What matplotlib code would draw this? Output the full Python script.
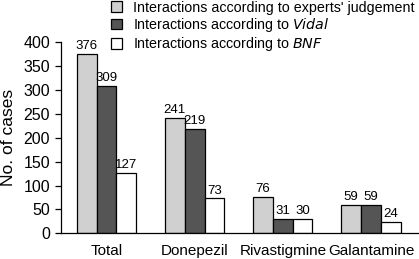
import numpy as np
import matplotlib
matplotlib.use('Agg')
import matplotlib.pyplot as plt

plt.rcParams['font.family'] = ['Liberation Sans', 'DejaVu Sans']

categories = ['Total', 'Donepezil', 'Rivastigmine', 'Galantamine']
experts = [376, 241, 76, 59]
vidal = [309, 219, 31, 59]
bnf = [127, 73, 30, 24]

series_labels = ["Interactions according to experts' judgement",
                 "Interactions according to $\\it{Vidal}$",
                 "Interactions according to $\\it{BNF}$"]
colors = ['#d0d0d0', '#555555', 'white']

fig = plt.figure(figsize=(4.19, 2.59), dpi=100)
ax = fig.add_axes([0.1456, 0.099, 0.8544, 0.7377])

x = np.arange(len(categories))
w = 0.224
handles = []
for i, (vals, col, lab) in enumerate(zip([experts, vidal, bnf], colors, series_labels)):
    bars = ax.bar(x + (i - 1) * w, vals, w, color=col, edgecolor='black',
                  linewidth=0.9, label=lab)
    handles.append(bars)
    for b, v in zip(bars, vals):
        ax.text(b.get_x() + b.get_width() / 2, v + 4, str(v), ha='center',
                va='bottom', fontsize=9.5)

ax.set_xlim(-0.516, 3.544)
ax.set_ylim(0, 400)
ax.set_yticks(range(0, 401, 50))
ax.set_xticks(x)
ax.set_xticklabels(categories, fontsize=11)
ax.tick_params(axis='y', labelsize=11.5, direction='out', length=4, width=0.9, pad=4)
ax.tick_params(axis='x', length=0, pad=8)
ax.set_ylabel('No. of cases', fontsize=12.5)
ax.yaxis.set_label_coords(-0.125, 0.5)
for s in ['top', 'right']:
    ax.spines[s].set_visible(False)
ax.spines['left'].set_linewidth(0.9)
ax.spines['bottom'].set_linewidth(0.9)

fig.legend(handles=handles, loc='upper left', bbox_to_anchor=(0.252, 1.02),
           frameon=False, fontsize=10.3, handlelength=0.75, handleheight=0.75,
           handletextpad=0.8, labelspacing=0.1, borderaxespad=0)

fig.savefig('out.png', dpi=100)
